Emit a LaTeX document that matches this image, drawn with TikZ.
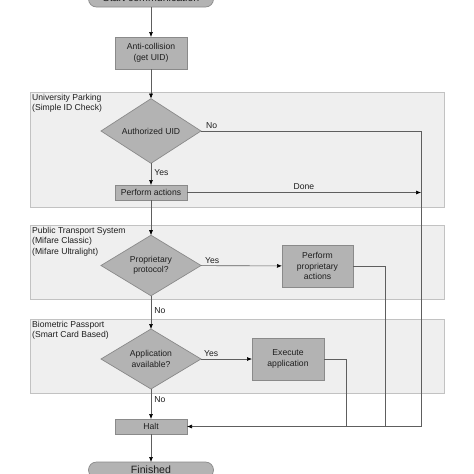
\documentclass[tikz,border=0pt]{standalone}
\usepackage{fontspec}
\setmainfont{Liberation Sans}
\usetikzlibrary{shapes.geometric,arrows.meta}
\definecolor{boxfill}{HTML}{B3B3B3}
\definecolor{boxline}{HTML}{8A8A8A}
\definecolor{grpfill}{HTML}{EFEFEF}
\definecolor{grpline}{HTML}{C2C2C2}
\definecolor{conn}{HTML}{5E5E5E}
\definecolor{txt}{HTML}{1E1E1E}
\begin{document}
\begin{tikzpicture}[x=1pt,y=-1pt,
  every node/.style={font=\fontsize{8.6}{10.5}\selectfont, text=txt},
  procbox/.style={draw=boxline, fill=boxfill, line width=0.7pt, inner sep=0pt, outer sep=0pt, align=center},
  decbox/.style={diamond, draw=boxline, fill=boxfill, line width=0.7pt, inner sep=0pt, outer sep=0pt, align=center, minimum width=100pt, minimum height=60pt},
  termbox/.style={draw=boxline, fill=boxfill, line width=0.7pt, rounded corners=8pt, inner sep=0pt, outer sep=0pt, minimum width=125pt, minimum height=16pt, font=\fontsize{10.6}{12}\selectfont},
  grpbox/.style={draw=grpline, fill=grpfill, line width=0.8pt, inner sep=0pt, outer sep=0pt, minimum width=414pt},
  grplabel/.style={anchor=north west, align=left, inner sep=1pt},
  flow/.style={draw=conn, line width=0.6pt, -{Latex[length=5pt,width=4pt,color=black]}},
  plain/.style={draw=conn, line width=0.6pt},
  lbl/.style={inner sep=0pt}]
\useasboundingbox (0,0) rectangle (474,474);
\fill[white] (0,0) rectangle (474,474);

% groups
\node[grpbox, minimum height=115pt] (g1) at (237,149.5) {};
\node[grpbox, minimum height=74pt] (g2) at (237,262) {};
\node[grpbox, minimum height=74pt] (g3) at (237,356) {};
\node[grplabel] (g1l) at (31,93) {University Parking\\(Simple ID Check)};
\node[grplabel] (g2l) at (31,226) {Public Transport System\\(Mifare Classic)\\(Mifare Ultralight)};
\node[grplabel] (g3l) at (31,320) {Biometric Passport\\(Smart Card Based)};

% nodes
\node[termbox, minimum height=18pt] (start) at (151,-2) {Start communication};
\node[procbox, minimum width=72pt, minimum height=32pt] (anti) at (151,53) {Anti-collision\\(get UID)};
\node[decbox] (d1) at (151,131) {Authorized UID};
\node[procbox, minimum width=72pt, minimum height=15pt] (pa) at (151,192.5) {Perform actions};
\node[decbox, minimum height=59pt] (d2) at (151,265.5) {Proprietary\\protocol?};
\node[procbox, minimum width=71pt, minimum height=42pt] (ppa) at (317.5,266) {Perform\\proprietary\\actions};
\node[decbox] (d3) at (151,359) {Application\\available?};
\node[procbox, minimum width=72pt, minimum height=42pt] (ea) at (288,359) {Execute\\application};
\node[procbox, minimum width=72pt, minimum height=15pt] (halt) at (151,426.5) {Halt};
\node[termbox] (fin) at (151,470) {Finished};

% junction coordinates
\coordinate (noTop) at (421,131);
\coordinate (done) at (421,192.5);
\coordinate (noBot) at (421,426.5);
\coordinate (ppaR) at (385.7,266);
\coordinate (ppaB) at (385.7,426.5);
\coordinate (eaR) at (346.7,359);
\coordinate (eaB) at (346.7,426.5);

% connectors
\path[flow] (start) -- (anti);
\path[flow] (anti) -- (d1);
\path[flow] (d1) -- node[lbl, right=3pt, pos=0.45] (yes1) {Yes} (pa);
\path[plain] (d1.east) -- node[lbl, above=2pt, pos=0.048] (no1) {No} (noTop) -- (noBot);
\path[flow] (pa.east) -- node[lbl, above=3pt, pos=0.5] (donel) {Done} (done);
\path[flow] (pa) -- (d2);
\path[flow] (d2) -- node[lbl, above=2pt, pos=0.14] (yes2) {Yes} (ppa);
\path[flow] (d2) -- node[lbl, right=3pt, pos=0.45] (no2) {No} (d3);
\path[flow] (d3) -- node[lbl, above=2pt, pos=0.2] (yes3) {Yes} (ea);
\path[flow] (d3) -- node[lbl, right=3pt, pos=0.35] (no3) {No} (halt);
\path[plain] (ppa.east) -- (ppaR) -- (ppaB);
\path[plain] (ea.east) -- (eaR) -- (eaB);
\path[flow] (noBot) -- (halt.east);
\path[flow] (halt) -- (fin);
\end{tikzpicture}
\end{document}
